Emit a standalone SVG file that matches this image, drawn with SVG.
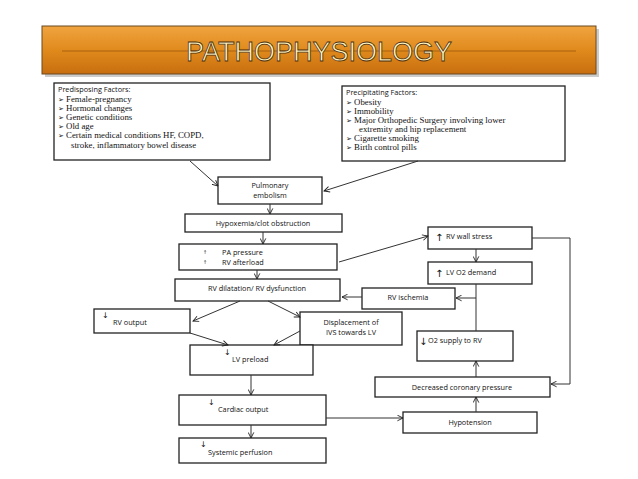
<svg xmlns="http://www.w3.org/2000/svg" width="638" height="479" viewBox="0 0 638 479">
<defs>
<linearGradient id="g" x1="0" y1="0" x2="0" y2="1"><stop offset="0" stop-color="#f0a440"/><stop offset="0.5" stop-color="#e08a1c"/><stop offset="1" stop-color="#c86e10"/></linearGradient>
<marker id="a" viewBox="0 0 10 10" refX="9" refY="5" markerWidth="7" markerHeight="7" orient="auto"><path d="M1,1 L9,5 L1,9" fill="none" stroke="#222" stroke-width="1.3"/></marker>
</defs>
<style>
.b{fill:#fff;stroke:#222;stroke-width:1.3}
.t{font-family:"Open Sans","DejaVu Sans",sans-serif;font-size:7.3px;fill:#111}
.s{font-family:"Liberation Serif",serif;font-size:8.8px;fill:#111}
.r{font-family:"DejaVu Sans",sans-serif;fill:#111}
.c line,.c polyline{stroke:#333;stroke-width:1;fill:none;marker-end:url(#a)}
</style>
<rect width="638" height="479" fill="#fff"/>
<g id="title">
<rect x="45" y="29" width="554" height="48" fill="#999" opacity="0.5"/>
<rect x="42" y="26" width="554" height="48" fill="url(#g)" stroke="#6a4a20" stroke-width="1"/>
<line x1="62" y1="51" x2="576" y2="51" stroke="#a86010" stroke-width="1"/>
<text x="319" y="61" text-anchor="middle" font-family="Liberation Sans,sans-serif" font-size="27" fill="#fff4c0" stroke="#4a3010" stroke-width="0.8">PATHOPHYSIOLOGY</text>
</g>
<g id="predisposing"><rect class="b" x="54" y="83" width="216" height="77"/>
<text class="t" x="58" y="92" font-size="6">Predisposing Factors:</text>
<text class="s" x="58" y="102"><tspan class="r" font-size="7">➢</tspan>  Female-pregnancy</text>
<text class="s" x="58" y="111"><tspan class="r" font-size="7">➢</tspan>  Hormonal changes</text>
<text class="s" x="58" y="120"><tspan class="r" font-size="7">➢</tspan>  Genetic conditions</text>
<text class="s" x="58" y="129"><tspan class="r" font-size="7">➢</tspan>  Old age</text>
<text class="s" x="58" y="138"><tspan class="r" font-size="7">➢</tspan>  Certain medical conditions HF, COPD,</text>
<text class="s" x="71" y="148">stroke, inflammatory bowel disease</text></g>
<g id="precipitating"><rect class="b" x="342" y="86" width="223" height="75"/>
<text class="t" x="346" y="95" font-size="6">Precipitating  Factors:</text>
<text class="s" x="346" y="105"><tspan class="r" font-size="7">➢</tspan>  Obesity</text>
<text class="s" x="346" y="114"><tspan class="r" font-size="7">➢</tspan>  Immobility</text>
<text class="s" x="346" y="123"><tspan class="r" font-size="7">➢</tspan>  Major Orthopedic Surgery involving lower</text>
<text class="s" x="359" y="132">extremity and hip replacement</text>
<text class="s" x="346" y="141"><tspan class="r" font-size="7">➢</tspan>  Cigarette smoking</text>
<text class="s" x="346" y="150"><tspan class="r" font-size="7">➢</tspan>  Birth control pills</text></g>
<g id="pe"><rect class="b" x="218" y="177" width="104" height="27"/><text class="t" x="270" y="188" text-anchor="middle">Pulmonary</text><text class="t" x="270" y="198" text-anchor="middle">embolism</text></g>
<g id="hyp"><rect class="b" x="185" y="214" width="157" height="18"/><text class="t" x="263" y="226" text-anchor="middle">Hypoxemia/clot obstruction</text></g>
<g id="pa"><rect class="b" x="179" y="244" width="158" height="26"/><text class="r" x="203" y="254" font-size="5" fill="#999">↑</text><text class="t" x="222" y="255">PA pressure</text><text class="r" x="203" y="264" font-size="5" fill="#999">↑</text><text class="t" x="222" y="265">RV afterload</text></g>
<g id="rvd"><rect class="b" x="175" y="279" width="165" height="22"/><text class="t" x="257" y="291" text-anchor="middle">RV dilatation/  RV dysfunction</text></g>
<g id="rvw"><rect class="b" x="428" y="227" width="104" height="22"/><text class="r" x="435" y="241" font-size="10">↑</text><text class="t" x="446" y="239">RV wall stress</text></g>
<g id="lvo"><rect class="b" x="428" y="262" width="104" height="22"/><text class="r" x="435" y="277" font-size="10">↑</text><text class="t" x="446" y="275">LV O2 demand</text></g>
<g id="rvi"><rect class="b" x="362" y="288" width="93" height="21"/><text class="t" x="408" y="300" text-anchor="middle">RV ischemia</text></g>
<g id="rvo"><rect class="b" x="94" y="309" width="96" height="24"/><text class="r" x="102" y="318" font-size="8">↓</text><text class="t" x="113" y="325">RV output</text></g>
<g id="ivs"><rect class="b" x="300" y="312" width="102" height="33"/><text class="t" x="351" y="325" text-anchor="middle">Displacement of</text><text class="t" x="351" y="335" text-anchor="middle">IVS towards  LV</text></g>
<g id="lvp"><rect class="b" x="190" y="345" width="123" height="30"/><text class="r" x="224" y="355" font-size="8">↓</text><text class="t" x="232" y="362">LV preload</text></g>
<g id="co"><rect class="b" x="179" y="395" width="147" height="30"/><text class="r" x="208" y="405" font-size="8">↓</text><text class="t" x="218" y="412">Cardiac output</text></g>
<g id="sp"><rect class="b" x="179" y="438" width="147" height="25"/><text class="r" x="200" y="447" font-size="8">↓</text><text class="t" x="208" y="455">Systemic perfusion</text></g>
<g id="o2"><rect class="b" x="417" y="331" width="96" height="30"/><text class="r" x="419" y="345" font-size="10">↓</text><text class="t" x="428" y="343">O2 supply to RV</text></g>
<g id="dcp"><rect class="b" x="375" y="377" width="175" height="20"/><text class="t" x="462" y="390" text-anchor="middle">Decreased coronary pressure</text></g>
<g id="hypo"><rect class="b" x="403" y="412" width="134" height="21"/><text class="t" x="470" y="425" text-anchor="middle">Hypotension</text></g>
<g class="c" id="connectors">
<line x1="190" y1="161" x2="218" y2="186"/>
<line x1="418" y1="161" x2="324" y2="191"/>
<line x1="270" y1="204" x2="270" y2="214"/>
<line x1="263" y1="232" x2="263" y2="244"/>
<line x1="257" y1="270" x2="257" y2="279"/>
<line x1="339" y1="262" x2="428" y2="236"/>
<line x1="476" y1="249" x2="476" y2="262"/>
<polyline points="476,284 476,331" style="marker-end:none"/>
<line x1="476" y1="298" x2="456" y2="298"/>
<line x1="362" y1="297" x2="342" y2="297"/>
<line x1="240" y1="301" x2="193" y2="321"/>
<line x1="268" y1="301" x2="300" y2="317"/>
<line x1="190" y1="333" x2="228" y2="345"/>
<line x1="300" y1="331" x2="274" y2="345"/>
<line x1="251" y1="375" x2="251" y2="395"/>
<line x1="251" y1="425" x2="251" y2="438"/>
<line x1="326" y1="418" x2="403" y2="418"/>
<line x1="476" y1="412" x2="476" y2="397"/>
<line x1="476" y1="377" x2="476" y2="361"/>
<polyline points="532,238 570,238 570,384 551,384"/>
</g>
</svg>
